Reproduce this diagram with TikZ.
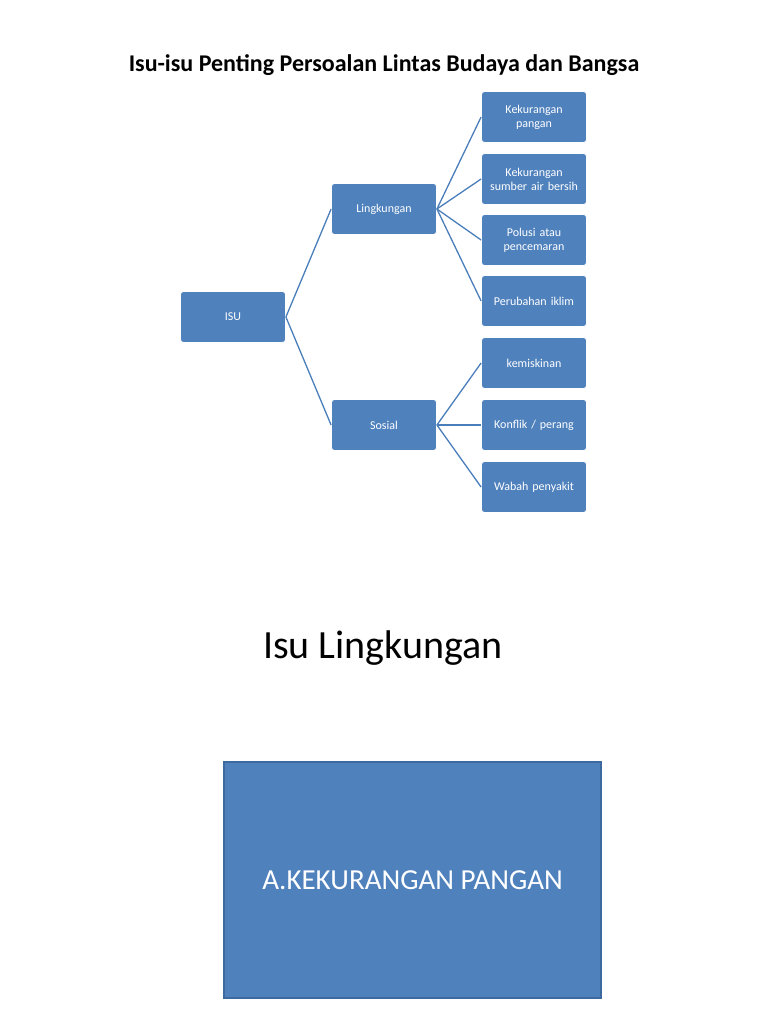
\documentclass[tikz,border=0pt]{standalone}
\usepackage{fontspec}
\setmainfont{Carlito}
\definecolor{boxblue}{HTML}{4F81BD}
\definecolor{edgeblue}{HTML}{3C6A9E}
\definecolor{lineblue}{HTML}{4A7EBB}
\begin{document}
\begin{tikzpicture}[x=1pt,y=-1pt,
  sbox/.style={draw=white,line width=0.8pt,fill=boxblue,rounded corners=3pt,minimum width=105pt,minimum height=51pt,text=white,font=\fontsize{12}{14}\selectfont,align=center,text width=100pt,inner sep=1pt},
  link/.style={draw=lineblue,line width=1.3pt}]
\useasboundingbox (0,0) rectangle (768,1024);
\node[font=\bfseries\fontsize{24}{28}\selectfont] (title) at (384,65) {Isu-isu Penting Persoalan Lintas Budaya dan Bangsa};
\node[sbox] (isu) at (233,317) {ISU};
\node[sbox] (ling) at (384,209) {Lingkungan};
\node[sbox] (sos) at (384,425) {Sosial};
\node[sbox] (r1) at (534,117) {Kekurangan\\pangan};
\node[sbox] (r2) at (534,179) {Kekurangan\\sumber air bersih};
\node[sbox] (r3) at (534,240) {Polusi atau\\pencemaran};
\node[sbox] (r4) at (534,301) {Perubahan iklim};
\node[sbox] (r5) at (534,363) {kemiskinan};
\node[sbox] (r6) at (534,425) {Konflik / perang};
\node[sbox] (r7) at (534,487) {Wabah penyakit};
\foreach \t in {ling,sos} \draw[link] (isu.east) -- (\t.west);
\foreach \t in {r1,r2,r3,r4} \draw[link] (ling.east) -- (\t.west);
\foreach \t in {r5,r6,r7} \draw[link] (sos.east) -- (\t.west);
\node[font=\fontsize{40}{46}\selectfont] (h2) at (383,648) {Isu Lingkungan};
\node[draw=edgeblue,line width=1.2pt,fill=boxblue,minimum width=377pt,minimum height=236pt,text=white,font=\fontsize{29}{34}\selectfont] (big) at (412.5,880) {A.KEKURANGAN PANGAN};
\end{tikzpicture}
\end{document}
